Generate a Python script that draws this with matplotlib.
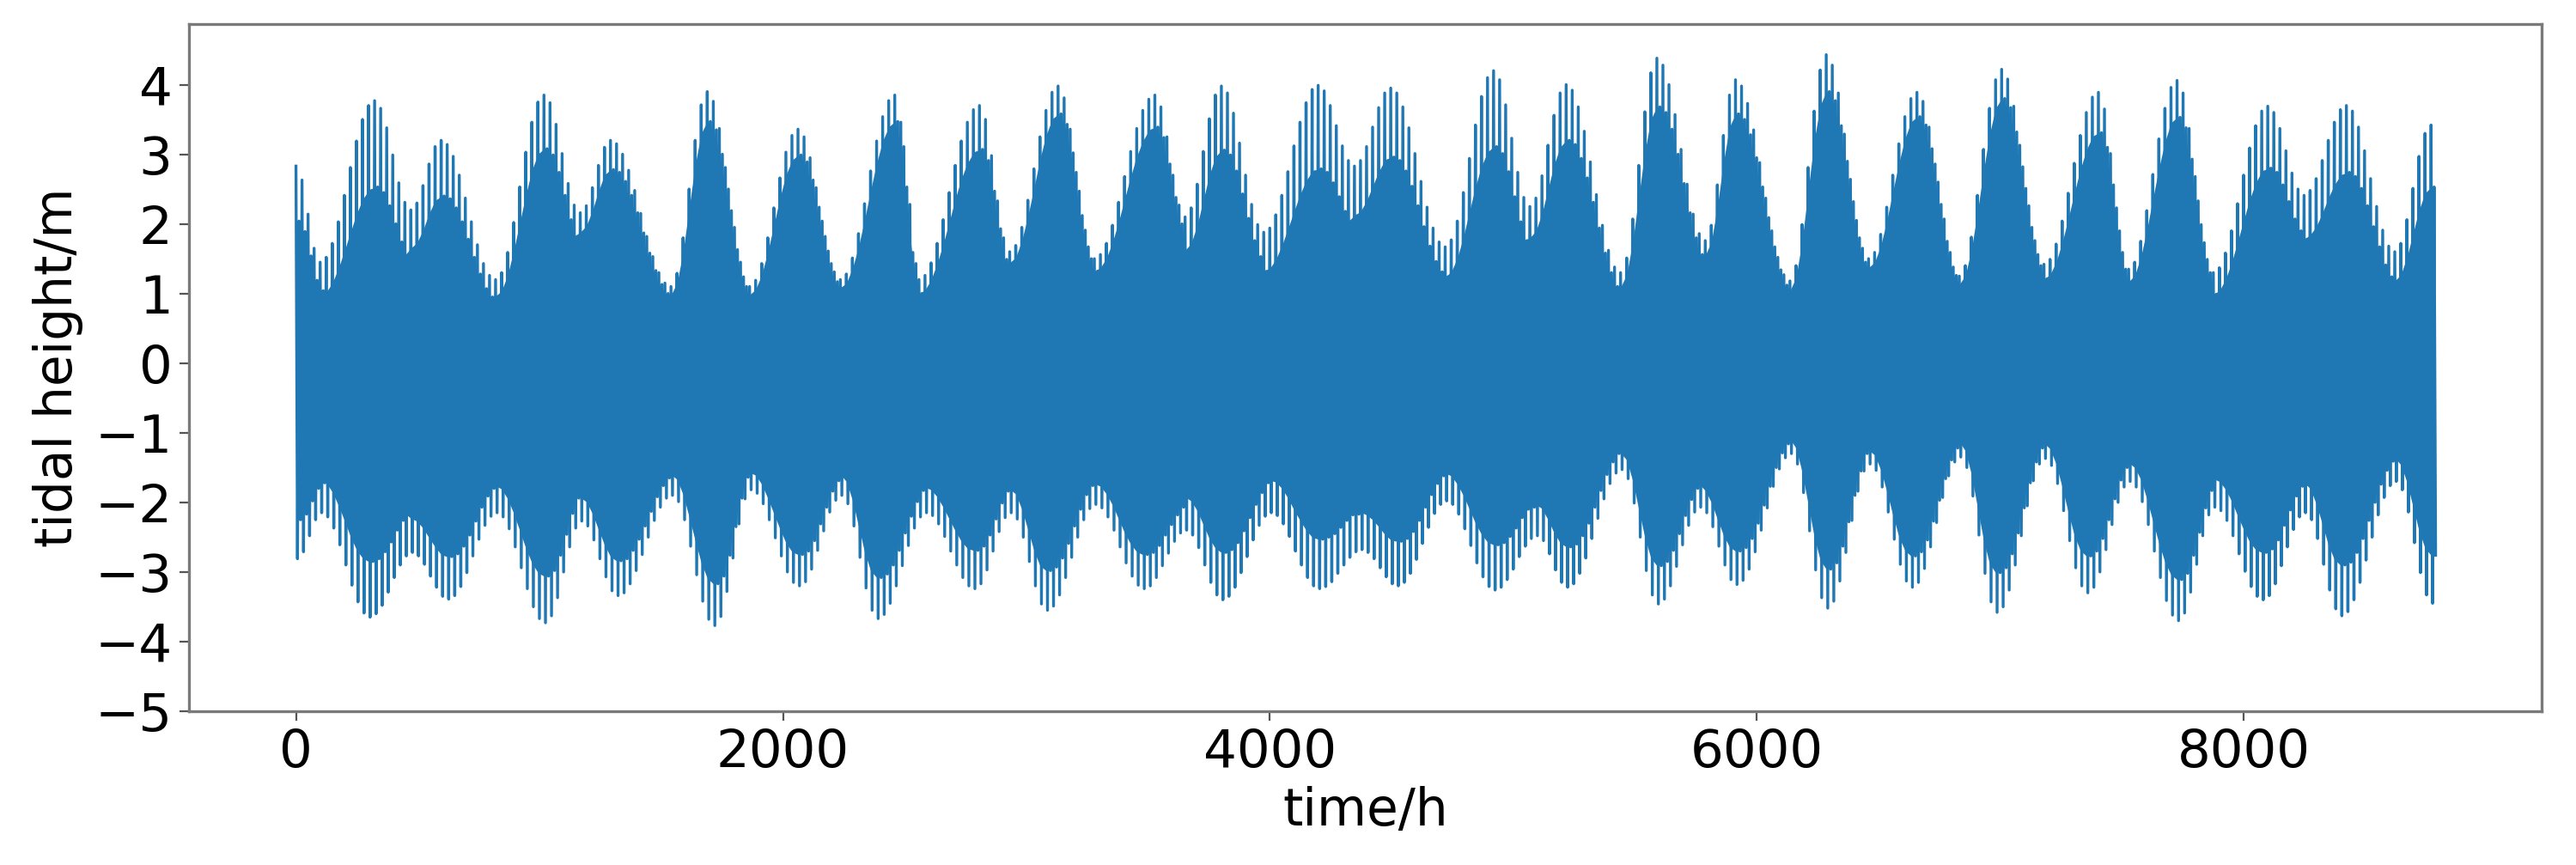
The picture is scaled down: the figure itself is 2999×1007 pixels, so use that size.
import numpy as np
import matplotlib
matplotlib.use("Agg")
import matplotlib.pyplot as plt

# ---- data (metres), one entry per lunar day (24.84 h) ----
TIDE_HALF_PERIOD_H = 6.21   # hours between successive high / low waters

higher_high = [
    2.83, 2.63, 2.14, 1.65, 1.45,
    1.52, 1.72, 2.03, 2.41, 2.81, 3.19, 3.50, 3.70, 3.77, 3.66, 3.38, 2.99, 2.59, 2.31,
    2.20, 2.30, 2.55, 2.86, 3.11, 3.20, 3.14, 2.97, 2.70, 2.37, 2.03, 1.70, 1.43, 1.26,
    1.20, 1.30, 1.59, 2.02, 2.53, 3.03, 3.46, 3.75, 3.85, 3.74, 3.43, 3.01, 2.58, 2.27,
    2.16, 2.26, 2.52, 2.84, 3.10, 3.20, 3.15, 3.00, 2.77, 2.48, 2.15, 1.82, 1.53, 1.30, 1.15,
    1.10, 1.29, 1.80, 2.50, 3.20, 3.71, 3.90, 3.76, 3.37, 2.81, 2.19, 1.63, 1.24,
    1.10, 1.19, 1.43, 1.80, 2.23, 2.66, 3.03, 3.27, 3.36, 3.25, 2.95, 2.52, 2.04, 1.61, 1.31,
    1.20, 1.28, 1.51, 1.86, 2.29, 2.76, 3.19, 3.54, 3.77, 3.85, 3.46, 2.53, 1.59,
    1.20, 1.26, 1.44, 1.72, 2.06, 2.45, 2.84, 3.19, 3.46, 3.64, 3.70, 3.50, 2.98, 2.33, 1.80,
    1.60, 1.69, 1.95, 2.34, 2.79, 3.25, 3.63, 3.89, 3.98, 3.81, 3.36, 2.74, 2.12, 1.67,
    1.50, 1.56, 1.72, 1.98, 2.31, 2.68, 3.04, 3.37, 3.63, 3.79, 3.85, 3.68, 3.25, 2.70, 2.27,
    2.10, 2.23, 2.57, 3.04, 3.51, 3.85, 3.98, 3.88, 3.59, 3.16, 2.70, 2.28, 1.99,
    1.88, 1.94, 2.13, 2.41, 2.75, 3.12, 3.46, 3.74, 3.93, 3.99, 3.91, 3.70, 3.41, 3.12, 2.91,
    2.83, 2.91, 3.11, 3.39, 3.67, 3.88, 3.95, 3.88, 3.68, 3.38, 3.01, 2.61, 2.24, 1.94, 1.74,
    1.67, 1.77, 2.04, 2.45, 2.94, 3.42, 3.83, 4.10, 4.20, 4.07, 3.71, 3.23, 2.74, 2.38,
    2.25, 2.37, 2.69, 3.13, 3.56, 3.88, 4.00, 3.92, 3.68, 3.33, 2.89, 2.42, 1.98, 1.62, 1.38,
    1.30, 1.51, 2.07, 2.84, 3.61, 4.17, 4.38, 4.28, 4.00, 3.57, 3.07, 2.57, 2.14, 1.86,
    1.76, 1.98, 2.56, 3.27, 3.85, 4.07, 3.98, 3.73, 3.35, 2.88, 2.37, 1.90, 1.52, 1.27,
    1.18, 1.40, 1.99, 2.81, 3.62, 4.21, 4.43, 4.28, 3.88, 3.29, 2.64, 2.05, 1.65,
    1.50, 1.59, 1.85, 2.24, 2.70, 3.15, 3.54, 3.80, 3.89, 3.76, 3.39, 2.86, 2.28, 1.75, 1.38,
    1.25, 1.40, 1.81, 2.41, 3.07, 3.66, 4.07, 4.22, 4.08, 3.69, 3.13, 2.51, 1.95, 1.56,
    1.42, 1.49, 1.71, 2.04, 2.44, 2.87, 3.27, 3.60, 3.82, 3.89, 3.65, 3.01, 2.23, 1.59,
    1.35, 1.45, 1.75, 2.19, 2.71, 3.22, 3.66, 3.96, 4.06, 3.88, 3.37, 2.68, 1.99, 1.49,
    1.30, 1.37, 1.58, 1.90, 2.29, 2.70, 3.09, 3.41, 3.62, 3.69, 3.60, 3.37, 3.05, 2.73, 2.50,
    2.41, 2.48, 2.65, 2.91, 3.20, 3.46, 3.64, 3.70, 3.62, 3.39, 3.05, 2.65, 2.25, 1.91, 1.68,
    1.60, 1.72, 2.06, 2.51, 2.97, 3.30, 3.42,
]

lower_high = [
    2.04, 1.89, 1.54, 1.19, 1.04,
    1.02, 1.15, 1.36, 1.61, 1.88, 2.14, 2.35, 2.48, 2.53, 2.45, 2.26, 2.00, 1.74, 1.55,
    1.65, 1.73, 1.91, 2.15, 2.33, 2.40, 2.36, 2.23, 2.03, 1.78, 1.52, 1.28, 1.07, 0.95,
    0.96, 1.04, 1.27, 1.62, 2.02, 2.42, 2.77, 3.00, 3.08, 2.99, 2.74, 2.41, 2.06, 1.82,
    1.88, 1.97, 2.19, 2.47, 2.70, 2.78, 2.74, 2.61, 2.41, 2.16, 1.87, 1.58, 1.33, 1.13, 1.00,
    0.98, 1.15, 1.60, 2.23, 2.85, 3.30, 3.47, 3.35, 3.00, 2.50, 1.95, 1.45, 1.10,
    0.98, 1.06, 1.27, 1.60, 1.98, 2.37, 2.70, 2.91, 2.99, 2.89, 2.63, 2.24, 1.82, 1.43, 1.17,
    1.08, 1.15, 1.36, 1.67, 2.06, 2.48, 2.87, 3.19, 3.39, 3.47, 3.11, 2.28, 1.43,
    1.00, 1.05, 1.20, 1.43, 1.71, 2.03, 2.36, 2.65, 2.87, 3.02, 3.07, 2.91, 2.47, 1.93, 1.49,
    1.44, 1.52, 1.76, 2.11, 2.51, 2.93, 3.27, 3.50, 3.58, 3.43, 3.02, 2.47, 1.91, 1.50,
    1.32, 1.37, 1.51, 1.74, 2.03, 2.36, 2.68, 2.97, 3.19, 3.34, 3.39, 3.24, 2.86, 2.38, 2.00,
    1.62, 1.72, 1.98, 2.34, 2.70, 2.96, 3.06, 2.99, 2.76, 2.43, 2.08, 1.76, 1.53,
    1.32, 1.36, 1.49, 1.69, 1.93, 2.18, 2.42, 2.62, 2.75, 2.79, 2.74, 2.59, 2.39, 2.18, 2.04,
    2.12, 2.18, 2.33, 2.54, 2.75, 2.91, 2.96, 2.91, 2.76, 2.54, 2.26, 1.96, 1.68, 1.46, 1.31,
    1.24, 1.31, 1.51, 1.81, 2.18, 2.53, 2.83, 3.03, 3.11, 3.01, 2.75, 2.39, 2.03, 1.76,
    1.80, 1.90, 2.15, 2.50, 2.85, 3.10, 3.20, 3.14, 2.94, 2.66, 2.31, 1.94, 1.58, 1.30, 1.10,
    1.09, 1.27, 1.74, 2.39, 3.03, 3.50, 3.68, 3.60, 3.36, 3.00, 2.58, 2.16, 1.80, 1.56,
    1.55, 1.74, 2.25, 2.88, 3.39, 3.58, 3.50, 3.28, 2.95, 2.53, 2.09, 1.67, 1.34, 1.12,
    1.04, 1.23, 1.75, 2.47, 3.19, 3.70, 3.90, 3.77, 3.41, 2.90, 2.32, 1.80, 1.45,
    1.37, 1.45, 1.68, 2.04, 2.46, 2.87, 3.22, 3.46, 3.54, 3.42, 3.08, 2.60, 2.07, 1.59, 1.26,
    1.13, 1.26, 1.63, 2.17, 2.76, 3.29, 3.66, 3.80, 3.67, 3.32, 2.82, 2.26, 1.76, 1.40,
    1.21, 1.27, 1.45, 1.73, 2.07, 2.44, 2.78, 3.06, 3.25, 3.31, 3.10, 2.56, 1.90, 1.35,
    1.17, 1.26, 1.52, 1.91, 2.36, 2.80, 3.18, 3.45, 3.53, 3.38, 2.93, 2.33, 1.73, 1.30,
    0.99, 1.04, 1.20, 1.44, 1.74, 2.05, 2.35, 2.59, 2.75, 2.80, 2.74, 2.56, 2.32, 2.07, 1.90,
    1.78, 1.84, 1.96, 2.15, 2.37, 2.56, 2.69, 2.74, 2.68, 2.51, 2.26, 1.96, 1.67, 1.41, 1.24,
    1.18, 1.27, 1.52, 1.86, 2.20, 2.44, 2.53,
]

lower_low = [
    -2.81, -2.71, -2.48, -2.25, -2.15,
    -2.21, -2.37, -2.61, -2.90, -3.19, -3.43, -3.59, -3.65, -3.60, -3.48, -3.29, -3.08, -2.90, -2.77,
    -2.72, -2.77, -2.89, -3.06, -3.22, -3.35, -3.39, -3.34, -3.21, -3.01, -2.77, -2.53, -2.33, -2.20,
    -2.15, -2.21, -2.38, -2.64, -2.94, -3.24, -3.50, -3.67, -3.73, -3.63, -3.37, -3.00, -2.64, -2.37,
    -2.27, -2.34, -2.54, -2.81, -3.07, -3.27, -3.34, -3.30, -3.17, -2.98, -2.75, -2.50, -2.26, -2.07, -1.94,
    -1.90, -1.99, -2.25, -2.63, -3.04, -3.42, -3.68, -3.77, -3.64, -3.28, -2.80, -2.31, -1.95,
    -1.82, -1.87, -2.02, -2.25, -2.51, -2.77, -3.00, -3.15, -3.20, -3.14, -2.96, -2.69, -2.41, -2.14, -1.97,
    -1.90, -2.02, -2.34, -2.79, -3.23, -3.55, -3.67, -3.61, -3.45, -3.20, -2.91, -2.62, -2.37,
    -2.21, -2.15, -2.19, -2.31, -2.49, -2.70, -2.90, -3.08, -3.20, -3.24, -3.17, -2.97, -2.70, -2.42, -2.22,
    -2.15, -2.24, -2.50, -2.85, -3.20, -3.46, -3.55, -3.49, -3.33, -3.08, -2.79, -2.50, -2.25, -2.09,
    -2.03, -2.08, -2.21, -2.40, -2.64, -2.87, -3.06, -3.19, -3.24, -3.20, -3.08, -2.91, -2.73, -2.56, -2.44,
    -2.40, -2.47, -2.65, -2.90, -3.15, -3.33, -3.40, -3.35, -3.22, -3.01, -2.78, -2.54, -2.33,
    -2.20, -2.15, -2.19, -2.31, -2.49, -2.70, -2.90, -3.08, -3.20, -3.24, -3.21, -3.14, -3.02, -2.90, -2.79,
    -2.71, -2.68, -2.72, -2.81, -2.94, -3.07, -3.17, -3.20, -3.15, -3.02, -2.82, -2.59, -2.36, -2.16, -2.03,
    -1.98, -2.03, -2.17, -2.38, -2.62, -2.87, -3.07, -3.21, -3.26, -3.22, -3.11, -2.96, -2.78, -2.63,
    -2.52, -2.48, -2.55, -2.74, -2.97, -3.15, -3.22, -3.17, -3.02, -2.80, -2.52, -2.23, -1.95, -1.73, -1.58,
    -1.53, -1.66, -2.01, -2.50, -2.98, -3.33, -3.46, -3.39, -3.20, -2.92, -2.61, -2.33, -2.14, -2.07,
    -2.15, -2.35, -2.63, -2.90, -3.11, -3.18, -3.12, -2.96, -2.71, -2.40, -2.08, -1.77, -1.52, -1.36,
    -1.30, -1.45, -1.86, -2.41, -2.97, -3.37, -3.52, -3.42, -3.13, -2.72, -2.26, -1.84, -1.55,
    -1.45, -1.54, -1.78, -2.14, -2.53, -2.89, -3.13, -3.22, -3.15, -2.95, -2.64, -2.29, -1.93, -1.62, -1.42,
    -1.35, -1.50, -1.91, -2.47, -3.02, -3.43, -3.58, -3.50, -3.26, -2.90, -2.48, -2.05, -1.69, -1.45,
    -1.37, -1.47, -1.73, -2.12, -2.55, -2.94, -3.20, -3.30, -3.22, -3.00, -2.68, -2.32, -2.00, -1.78,
    -1.70, -1.78, -1.99, -2.32, -2.70, -3.08, -3.41, -3.62, -3.70, -3.59, -3.29, -2.89, -2.48, -2.18,
    -2.07, -2.12, -2.26, -2.48, -2.74, -2.99, -3.21, -3.35, -3.40, -3.34, -3.17, -2.91, -2.64, -2.39, -2.21,
    -2.15, -2.25, -2.52, -2.89, -3.26, -3.53, -3.63, -3.57, -3.40, -3.15, -2.83, -2.50, -2.18, -1.93, -1.76,
    -1.70, -1.82, -2.14, -2.58, -3.01, -3.33, -3.45,
]

higher_low = [
    -2.25, -2.17, -1.98, -1.80, -1.72,
    -1.72, -1.85, -2.04, -2.26, -2.49, -2.68, -2.80, -2.85, -2.81, -2.71, -2.57, -2.40, -2.26, -2.16,
    -2.23, -2.27, -2.37, -2.51, -2.64, -2.75, -2.78, -2.74, -2.63, -2.47, -2.27, -2.07, -1.91, -1.80,
    -1.76, -1.81, -1.95, -2.16, -2.41, -2.66, -2.87, -3.01, -3.06, -2.98, -2.76, -2.46, -2.16, -1.94,
    -1.93, -1.99, -2.16, -2.39, -2.61, -2.78, -2.84, -2.81, -2.69, -2.53, -2.34, -2.13, -1.92, -1.76, -1.65,
    -1.60, -1.67, -1.89, -2.21, -2.55, -2.87, -3.09, -3.17, -3.06, -2.76, -2.35, -1.94, -1.64,
    -1.57, -1.61, -1.74, -1.94, -2.16, -2.38, -2.58, -2.71, -2.75, -2.70, -2.55, -2.31, -2.07, -1.84, -1.69,
    -1.60, -1.70, -1.97, -2.34, -2.71, -2.98, -3.08, -3.03, -2.90, -2.69, -2.44, -2.20, -1.99,
    -1.83, -1.78, -1.82, -1.92, -2.07, -2.24, -2.41, -2.56, -2.66, -2.69, -2.63, -2.47, -2.24, -2.01, -1.84,
    -1.81, -1.88, -2.10, -2.39, -2.69, -2.91, -2.98, -2.93, -2.80, -2.59, -2.34, -2.10, -1.89, -1.76,
    -1.73, -1.77, -1.88, -2.04, -2.24, -2.44, -2.60, -2.71, -2.75, -2.72, -2.62, -2.47, -2.32, -2.18, -2.07,
    -1.92, -1.98, -2.12, -2.32, -2.52, -2.66, -2.72, -2.68, -2.58, -2.41, -2.22, -2.03, -1.86,
    -1.72, -1.68, -1.71, -1.80, -1.94, -2.11, -2.26, -2.40, -2.50, -2.53, -2.50, -2.45, -2.36, -2.26, -2.18,
    -2.17, -2.14, -2.18, -2.25, -2.35, -2.46, -2.54, -2.56, -2.52, -2.42, -2.26, -2.07, -1.89, -1.73, -1.62,
    -1.58, -1.62, -1.74, -1.90, -2.10, -2.30, -2.46, -2.57, -2.61, -2.58, -2.49, -2.37, -2.22, -2.10,
    -2.07, -2.03, -2.09, -2.25, -2.44, -2.58, -2.64, -2.60, -2.48, -2.30, -2.07, -1.83, -1.60, -1.42, -1.30,
    -1.29, -1.39, -1.69, -2.10, -2.50, -2.80, -2.91, -2.85, -2.69, -2.45, -2.19, -1.96, -1.80, -1.74,
    -1.83, -2.00, -2.24, -2.47, -2.64, -2.70, -2.65, -2.52, -2.30, -2.04, -1.77, -1.50, -1.29, -1.16,
    -1.09, -1.22, -1.56, -2.02, -2.49, -2.83, -2.96, -2.87, -2.63, -2.28, -1.90, -1.55, -1.30,
    -1.25, -1.32, -1.53, -1.84, -2.18, -2.49, -2.69, -2.77, -2.71, -2.54, -2.27, -1.97, -1.66, -1.39, -1.22,
    -1.13, -1.26, -1.60, -2.07, -2.54, -2.88, -3.01, -2.94, -2.74, -2.44, -2.08, -1.72, -1.42, -1.22,
    -1.15, -1.23, -1.45, -1.78, -2.14, -2.47, -2.69, -2.77, -2.70, -2.52, -2.25, -1.95, -1.68, -1.50,
    -1.43, -1.50, -1.67, -1.95, -2.27, -2.59, -2.86, -3.04, -3.11, -3.02, -2.76, -2.43, -2.08, -1.83,
    -1.66, -1.70, -1.81, -1.98, -2.19, -2.39, -2.57, -2.68, -2.72, -2.67, -2.54, -2.33, -2.11, -1.91, -1.77,
    -1.72, -1.80, -2.02, -2.31, -2.61, -2.82, -2.90, -2.86, -2.72, -2.52, -2.26, -2.00, -1.74, -1.54, -1.41,
    -1.36, -1.46, -1.71, -2.06, -2.41, -2.66, -2.76,
]

x_ticks = [0, 2000, 4000, 6000, 8000]
y_ticks = [-5, -4, -3, -2, -1, 0, 1, 2, 3, 4]
x_label = "time/h"
y_label = "tidal height/m"
LINE_COLOR = '#1f77b4'

# ---- build the high/low water sequence (HH, LL, LH, HL per lunar day) ----
n = min(len(higher_high), len(lower_high), len(lower_low), len(higher_low))
hh = np.asarray(higher_high[:n])
lh = np.asarray(lower_high[:n])
ll = np.asarray(lower_low[:n])
hl = np.asarray(higher_low[:n])
heights = np.column_stack([hh, ll, lh, hl]).ravel()
hours = np.arange(heights.size) * TIDE_HALF_PERIOD_H
day_hours = hours[::4]

# ---- figure ----
plt.rcParams['font.family'] = ['DejaVu Sans']
fig = plt.figure(figsize=(29.99, 10.07), dpi=100)
ax = fig.add_axes([0.0734, 0.1778, 0.9133, 0.7944])

# solid band reached by every tide of the day
ax.fill_between(day_hours, hl, lh, color=LINE_COLOR, linewidth=0)
# the tide-by-tide trace (spikes above / below the band)
ax.plot(hours, heights, color=LINE_COLOR, linewidth=2.4)

ax.set_xlim(-439, 9223)
ax.set_ylim(-5, 4.87)
ax.set_xticks(x_ticks)
ax.set_yticks(y_ticks)

ax.tick_params(axis='both', labelsize=44, length=8, width=1.6,
               color='#555555', pad=6)
ax.set_xlabel(x_label, fontsize=43, labelpad=6)
ax.set_ylabel(y_label, fontsize=43, labelpad=10)

for sp in ax.spines.values():
    sp.set_color('#7a7a7a')
    sp.set_linewidth(2.4)

fig.savefig("out.png", dpi=100)
